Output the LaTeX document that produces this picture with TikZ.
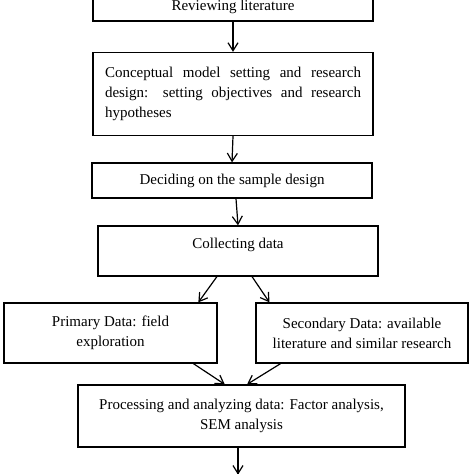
\documentclass[tikz,border=0pt]{standalone}
\usepackage{fontspec}
\setmainfont{Liberation Serif}
\usetikzlibrary{arrows.meta,calc}
\tikzset{
    box/.style={draw, line width=1.3pt, inner sep=0pt, align=center,
        font=\fontsize{15}{20}\selectfont},
    arr/.style={line width=1.2pt, -{Straight Barb[length=8pt,width=10pt]}}
}
\begin{document}
\begin{tikzpicture}[x=1pt,y=1pt]
    \useasboundingbox (0,0) rectangle (474,-474);

    \node[box, minimum width=280, minimum height=28] (review) at (233,-7) {Reviewing literature};
    \node[box, minimum width=280, minimum height=83, text width=256, align=justify] (concept) at (233,-94)
        {Conceptual model setting and research\linebreak design: setting objectives and research\linebreak hypotheses};
    \node[box, minimum width=280, minimum height=35] (sample) at (232,-180.5) {Deciding on the sample design};
    \node[box, minimum width=280, minimum height=50, text depth=16pt] (collect) at (238,-251) {Collecting data};
    \node[box, minimum width=213, minimum height=60] (primary) at (110.5,-333) {Primary Data: field\\exploration};
    \node[box, minimum width=212, minimum height=60] (secondary) at (362,-333) {Secondary Data: available\\literature and similar research};
    \node[box, minimum width=327, minimum height=62] (analysis) at (241.5,-416) {Processing and analyzing data: Factor analysis,\\SEM analysis};
    \coordinate (next) at (238,-480);

    \draw[arr] (review.south) -- (concept.north);
    \draw[arr] (concept.south) -- (sample.north);
    \draw[arr] ($(sample.south)+(4,0)$) -- (collect.north);
    \draw[arr] ($(collect.south west)!0.425!(collect.south east)$) -- ($(primary.north west)!0.91!(primary.north east)$);
    \draw[arr] ($(collect.south west)!0.55!(collect.south east)$) -- ($(secondary.north west)!0.066!(secondary.north east)$);
    \draw[arr] ($(primary.south west)!0.887!(primary.south east)$) -- ($(analysis.north west)!0.449!(analysis.north east)$);
    \draw[arr] ($(secondary.south west)!0.118!(secondary.south east)$) -- ($(analysis.north west)!0.517!(analysis.north east)$);
    \draw[line width=1.2pt] (analysis.south -| next) -- (next);
    \draw[arr] (analysis.south -| next) -- ($(analysis.south -| next)+(0,-27)$);
\end{tikzpicture}
\end{document}
